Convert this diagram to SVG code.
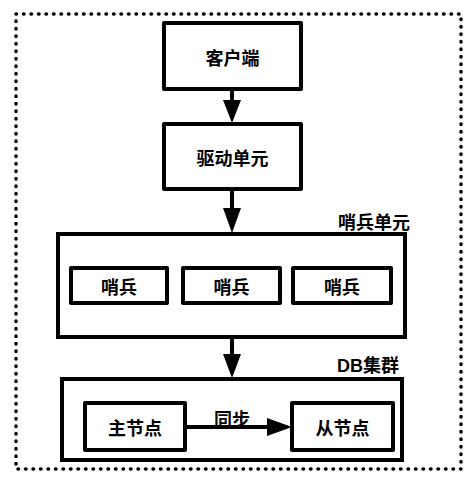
<svg xmlns="http://www.w3.org/2000/svg" width="474" height="486" viewBox="0 0 474 486">
<defs>
<style>
.box{fill:#fff;stroke:#000;stroke-width:4;stroke-linejoin:round}
.grp{fill:#fff;stroke:#000;stroke-width:4}
.t{font-family:"Noto Sans CJK SC","Liberation Sans",sans-serif;font-size:18px;font-weight:bold;fill:#000;text-anchor:middle;dominant-baseline:central}
.lbl{font-family:"Liberation Sans","Noto Sans CJK SC",sans-serif;font-size:18px;font-weight:bold;fill:#000;text-anchor:end}
.ln{stroke:#000;stroke-width:4;fill:none}
.ah{fill:#000}
</style>
</defs>
<rect x="16" y="14" width="445" height="455" fill="none" stroke="#000" stroke-width="3.5" stroke-linecap="round" stroke-dasharray="0.5 7"/>
<g id="client"><rect class="box" x="164" y="23" width="137" height="66"/><text class="t" x="232.5" y="57">客户端</text></g>
<g id="driver"><rect class="box" x="164" y="124" width="137" height="65"/><text class="t" x="232.5" y="157">驱动单元</text></g>
<g id="sentinel-unit"><rect class="grp" x="58" y="234" width="347" height="103"/><text class="lbl" x="410" y="229">哨兵单元</text></g>
<g id="sentinel1"><rect class="box" x="71" y="268" width="96" height="35"/><text class="t" x="119" y="286">哨兵</text></g>
<g id="sentinel2"><rect class="box" x="183" y="268" width="97" height="35"/><text class="t" x="231.5" y="286">哨兵</text></g>
<g id="sentinel3"><rect class="box" x="293" y="268" width="98" height="35"/><text class="t" x="342" y="286">哨兵</text></g>
<g id="db-cluster"><rect class="grp" x="62" y="379" width="340" height="81"/><text class="lbl" x="399" y="372">DB集群</text></g>
<g id="master"><rect class="box" x="85" y="403" width="100" height="47"/><text class="t" x="135" y="427">主节点</text></g>
<g id="slave"><rect class="box" x="292" y="403" width="101" height="47"/><text class="t" x="342.5" y="427">从节点</text></g>
<g id="connectors">
<line class="ln" x1="232" y1="89" x2="232" y2="104"/>
<polygon class="ah" points="223,100 241,100 232,123"/>
<line class="ln" x1="232" y1="189" x2="232" y2="212"/>
<polygon class="ah" points="223,208 241,208 232,233"/>
<line class="ln" x1="232" y1="337" x2="232" y2="356"/>
<polygon class="ah" points="223,354 241,354 232,378"/>
<line class="ln" x1="185" y1="427" x2="272" y2="427"/>
<polygon class="ah" points="267,418 267,436 292,427"/>
<text class="t" x="232" y="418" font-size="16">同步</text>
</g>
</svg>
